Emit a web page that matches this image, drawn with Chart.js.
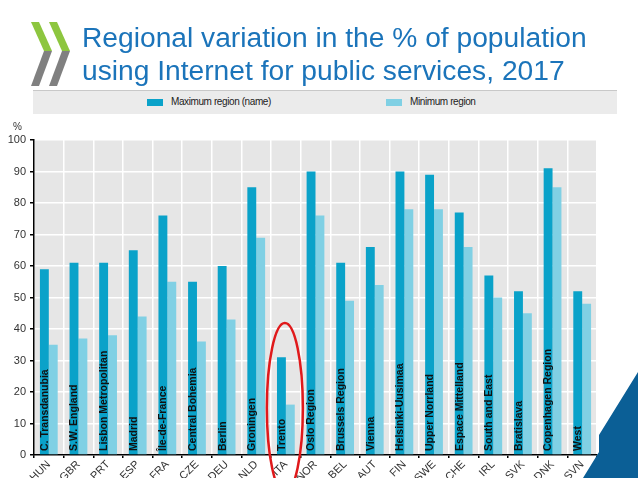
<!DOCTYPE html>
<html>
<head>
<meta charset="utf-8">
<script src="https://cdn.jsdelivr.net/npm/chart.js@4.4.1/dist/chart.umd.min.js"></script>
<style>
  body { margin: 0; background: #fff; font-family: "Liberation Sans", Arial, sans-serif; }
  #wrap { position: relative; width: 638px; height: 478px; overflow: hidden; }
  #chart { position: absolute; left: 0; top: 0; }
  .title { position: absolute; left: 82px; top: 21px; color: #1b74ba; font-size: 28.2px; line-height: 33px; white-space: nowrap; }
  .band { position: absolute; left: 33px; top: 90px; width: 584px; height: 23px; background: #ebebeb; border-top: 1px solid #c8c8c8; }
  .leg { position: absolute; top: 96px; font-family: "Liberation Sans Narrow", "Liberation Sans", Arial, sans-serif; font-size: 10px; color: #222; letter-spacing: -0.4px; }
  .sw { position: absolute; top: 99px; width: 16px; height: 7px; }
  .pct { position: absolute; left: 13px; top: 121px; font-size: 10px; color: #333; }
  svg.deco { position: absolute; left: 0; top: 0; }
</style>
</head>
<body>
<div id="wrap">
  <canvas id="chart" width="638" height="478"></canvas>
  <svg class="deco" width="638" height="478">
    <polygon points="31,22 39,22 52,51 44,51" fill="#8dc63f"/>
    <polygon points="44,51 52,51 39,86 31,86" fill="#808080"/>
    <polygon points="49,22 57,22 70,51 62,51" fill="#8dc63f"/>
    <polygon points="62,51 70,51 57,86 49,86" fill="#808080"/>
    <polygon points="583,478 599,452 599,435 638,372 638,478" fill="#0b5f96"/>
  </svg>
  <div class="title">Regional variation in the % of population<br>using Internet for public services, 2017</div>
  <div class="band"></div>
  <div class="sw" style="left:147px;background:#0aa2c9"></div>
  <div class="leg" style="left:171px">Maximum region (name)</div>
  <div class="sw" style="left:386px;background:#80d0e4"></div>
  <div class="leg" style="left:410px">Minimum region</div>
  <div class="pct">%</div>
</div>
<script>
const countries = ["HUN", "GBR", "PRT", "ESP", "FRA", "CZE", "DEU", "NLD", "ITA", "NOR",
                   "BEL", "AUT", "FIN", "SWE", "CHE", "IRL", "SVK", "DNK", "SVN"];
const maxRegions = ["C. Transdanubia", "S.W. England", "Lisbon Metropolitan", "Madrid", "Île-de-France",
                    "Central Bohemia", "Berlin", "Groningen", "Trento", "Oslo Region", "Brussels Region",
                    "Vienna", "Helsinki-Uusimaa", "Upper Norrland", "Espace Mittelland", "South and East",
                    "Bratislava", "Copenhagen Region", "West"];
const maxValues = [59, 61, 61, 65, 76, 55, 60, 85, 31, 90, 61, 66, 90, 89, 77, 57, 52, 91, 52];
const minValues = [35, 37, 38, 44, 55, 36, 43, 69, 16, 76, 49, 54, 78, 78, 66, 50, 45, 85, 48];
const yTicks = [0, 10, 20, 30, 40, 50, 60, 70, 80, 90, 100];

const plotBg = {
    id: 'plotBg',
    beforeDraw(chart) {
        const a = chart.chartArea;
        const ctx = chart.ctx;
        ctx.save();
        ctx.fillStyle = '#e6e6e6';
        ctx.fillRect(a.left, a.top, a.right - a.left, a.bottom - a.top);
        ctx.restore();
    }
};

const regionLabels = {
    id: 'regionLabels',
    afterDatasetsDraw(chart) {
        const ctx = chart.ctx;
        const meta = chart.getDatasetMeta(0);
        const yBase = chart.scales.y.getPixelForValue(0);
        ctx.save();
        ctx.font = 'bold 10.5px "Liberation Sans", Arial, sans-serif';
        ctx.fillStyle = '#111';
        ctx.textAlign = 'left';
        ctx.textBaseline = 'middle';
        meta.data.forEach((bar, i) => {
            ctx.save();
            ctx.translate(bar.x + 0.5, yBase - 4);
            ctx.rotate(-Math.PI / 2);
            ctx.fillText(maxRegions[i], 0, 0);
            ctx.restore();
        });
        ctx.restore();
    }
};

const circleIta = {
    id: 'circleIta',
    afterDraw(chart) {
        const ctx = chart.ctx;
        const x = chart.scales.x.getPixelForValue(countries.indexOf("ITA"));
        ctx.save();
        ctx.strokeStyle = '#e0191b';
        ctx.lineWidth = 2.5;
        ctx.beginPath();
        ctx.ellipse(x - 1, 408, 18, 85, 0, 0, Math.PI * 2);
        ctx.stroke();
        ctx.restore();
    }
};

new Chart(document.getElementById('chart'), {
    type: 'bar',
    data: {
        labels: countries,
        datasets: [
            { label: 'Maximum region (name)', data: maxValues, backgroundColor: '#0aa2c9' },
            { label: 'Minimum region', data: minValues, backgroundColor: '#80d0e4' }
        ]
    },
    options: {
        responsive: false,
        animation: false,
        layout: { padding: { left: 0, right: 41, top: 140, bottom: 0 } },
        datasets: { bar: { categoryPercentage: 0.6, barPercentage: 1.0 } },
        plugins: { legend: { display: false }, tooltip: { enabled: false } },
        scales: {
            x: {
                afterFit(scale) { scale.height = 23; },
                border: { color: '#000', width: 1.5 },
                grid: { color: '#fff', lineWidth: 1.5, tickColor: '#000', tickLength: 3 },
                ticks: {
                    minRotation: 45, maxRotation: 45, padding: 0,
                    color: '#333', font: { size: 11, family: '"Liberation Sans", Arial, sans-serif' }
                }
            },
            y: {
                min: 0, max: 100,
                afterFit(scale) { scale.width = 34; },
                afterBuildTicks(scale) { scale.ticks = yTicks.map(v => ({ value: v })); },
                border: { color: '#000', width: 1.5 },
                grid: { color: '#fff', lineWidth: 1.5, tickColor: '#000', tickLength: 4 },
                ticks: {
                    padding: 4,
                    color: '#333', font: { size: 11, family: '"Liberation Sans", Arial, sans-serif' }
                }
            }
        }
    },
    plugins: [plotBg, regionLabels, circleIta]
});
</script>
</body>
</html>
